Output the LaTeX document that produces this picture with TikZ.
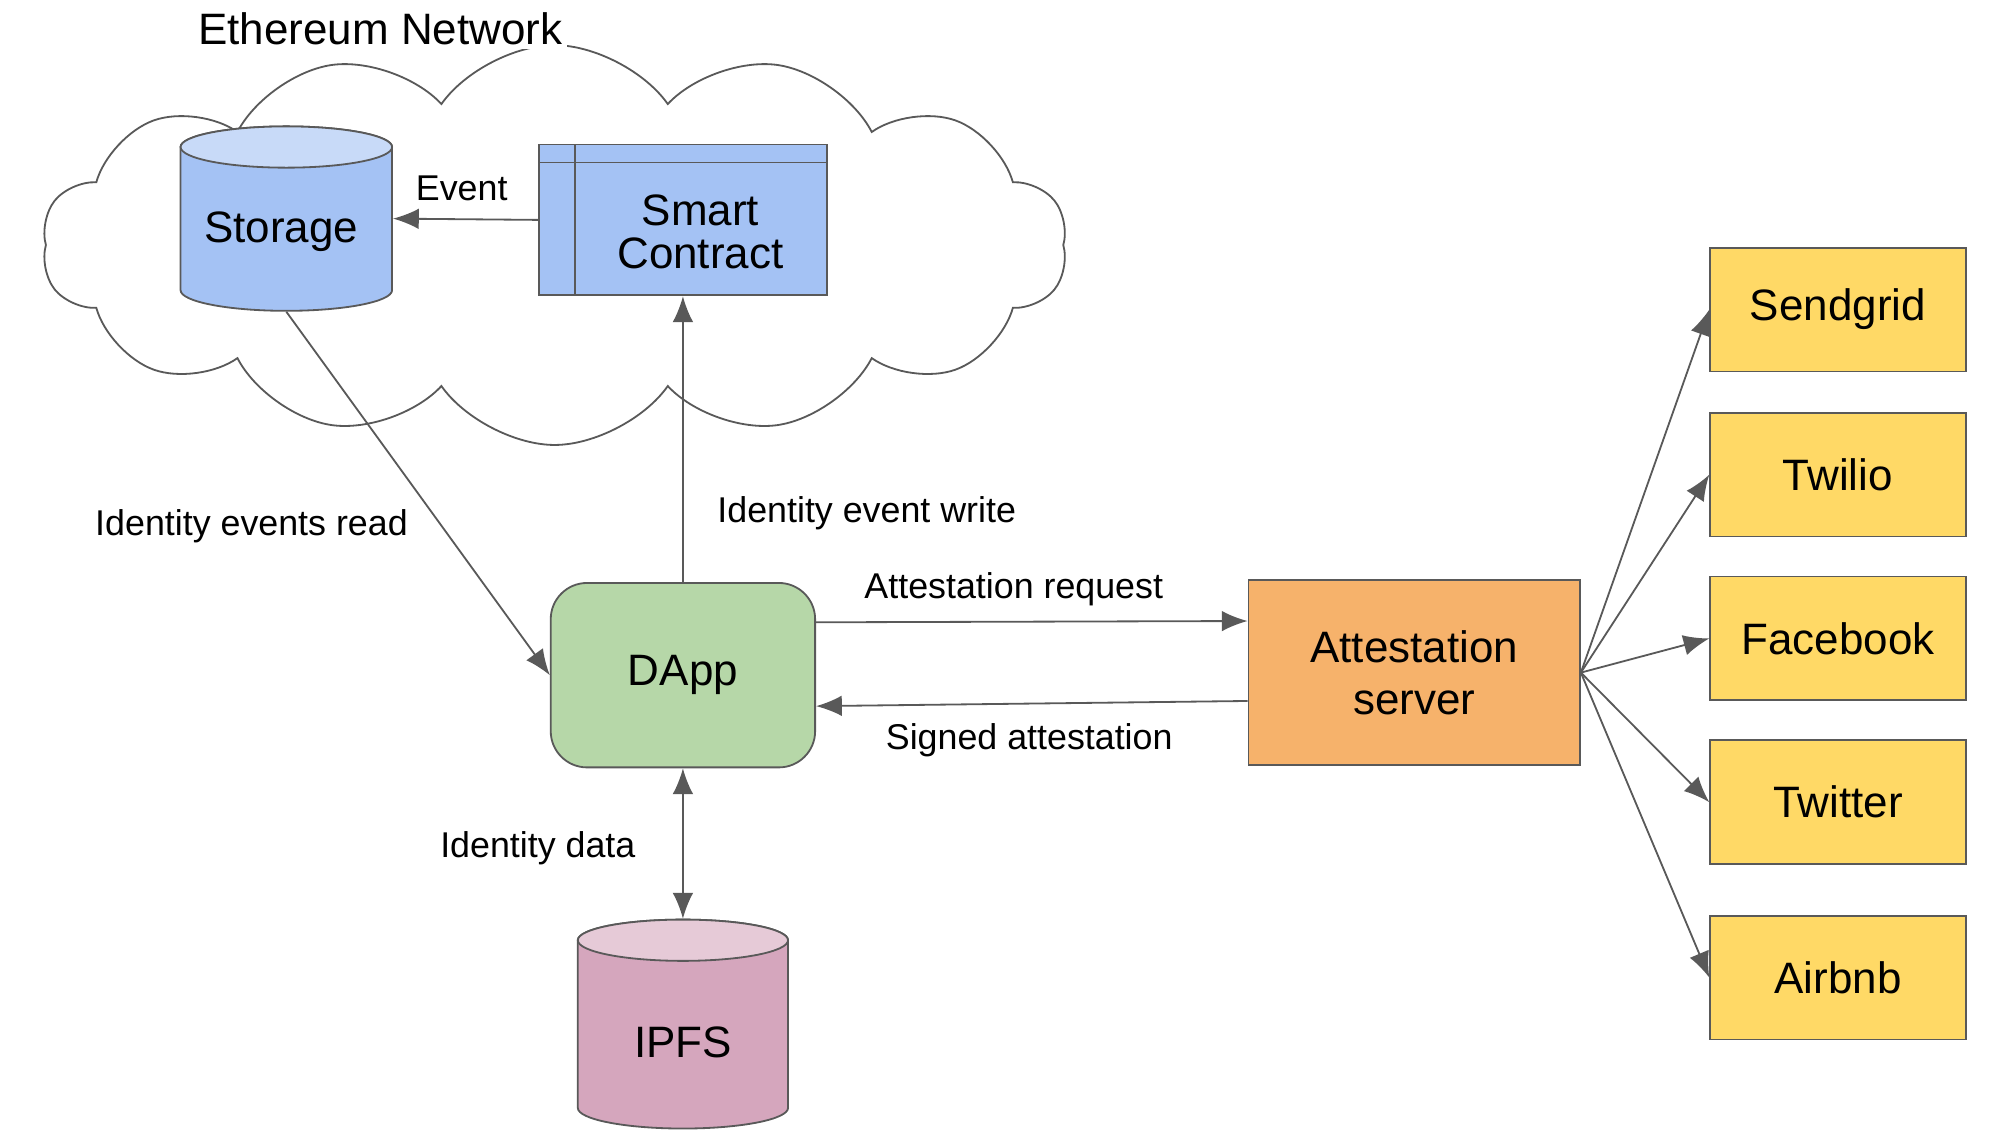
\documentclass[tikz,border=0pt]{standalone}
\usepackage{fontspec}
\setmainfont{Liberation Sans}
\usetikzlibrary{shapes.symbols,arrows.meta}
\definecolor{blueF}{HTML}{A4C2F4}
\definecolor{blueT}{HTML}{C9DAF8}
\definecolor{greenF}{HTML}{B6D7A8}
\definecolor{pinkF}{HTML}{D5A6BD}
\definecolor{orangeF}{HTML}{F6B26B}
\definecolor{yellowF}{HTML}{FFD966}
\definecolor{edge}{HTML}{595959}
\newcommand{\mycyl}[6]{% cx, cy, w, h, ry, fill
  \draw[edge,fill=#6] (#1-#3,#2+#4-#5) -- (#1-#3,#2-#4+#5) arc (180:360:#3 and #5)
    -- (#1+#3,#2+#4-#5) arc (0:180:#3 and #5) -- cycle;
  \draw[edge,fill=#6!60!white] (#1,#2+#4-#5) ellipse (#3 and #5);}
\begin{document}
\begin{tikzpicture}[
  every node/.style={font=\fontsize{9.7}{11.5}\selectfont},
  box/.style={draw=edge, align=center, inner sep=0pt},
  site/.style={box, fill=yellowF, minimum width=1.98cm, minimum height=0.96cm},
  lbl/.style={font=\fontsize{7.9}{10}\selectfont},
  arr/.style={edge, -{Latex[length=2mm,width=1.6mm]}}]
\useasboundingbox (0,0) rectangle (15.6,-8.84);
% cloud
\node[cloud, draw=edge, cloud puffs=14, cloud puff arc=110, aspect=2.6, minimum width=7.95cm,
  minimum height=3.1cm] (net) at (4.3,-1.9) {};
\node[fill=white, inner sep=1pt] (title) at (2.95,-0.22) {Ethereum Network};
% storage and contract
\mycyl{2.22}{-1.695}{0.82}{0.715}{0.16}{blueF}
\node (storage) at (2.22,-1.695) [minimum width=1.64cm, minimum height=1.43cm] {};
\node at (2.18,-1.8) {Storage};
\node[box, fill=blueF, minimum width=2.23cm, minimum height=1.17cm] (contract) at (5.295,-1.705) {};
\draw[edge] (4.18,-1.26) -- (6.41,-1.26) (4.46,-1.12) -- (4.46,-2.29);
\node[align=center] at (5.43,-1.8) {Smart\\[-2pt]Contract};
\node[lbl] (ev) at (3.58,-1.46) {Event};
\draw[arr] (contract.west) -- (storage.east);
% dapp, ipfs
\node[box, fill=greenF, rounded corners=8pt, minimum width=2.05cm, minimum height=1.43cm] (dapp) at (5.295,-5.235) {DApp};
\mycyl{5.295}{-7.94}{0.815}{0.81}{0.16}{pinkF}
\node (ipfs) at (5.295,-7.94) [minimum width=1.63cm, minimum height=1.62cm] {};
\node at (5.295,-8.08) {IPFS};
\draw[arr] (dapp.north) -- (contract.south);
\node[lbl] (w) at (6.72,-3.98) {Identity event write};
\draw[arr] (storage.south) -- (dapp.west);
\node[lbl] (r) at (1.95,-4.08) {Identity events read};
\draw[edge, {Latex[length=2mm,width=1.6mm]}-{Latex[length=2mm,width=1.6mm]}] (dapp.south) -- (ipfs.north);
\node[lbl] (d) at (4.17,-6.58) {Identity data};
% attestation
\node[box, fill=orangeF, minimum width=2.57cm, minimum height=1.43cm] (att) at (10.965,-5.215) {Attestation\\server};
\draw[arr] ([yshift=0.41cm]dapp.east) -- ([yshift=0.4cm]att.west);
\node[lbl] (req) at (7.86,-4.57) {Attestation request};
\draw[arr] ([yshift=-0.22cm]att.west) -- ([yshift=-0.24cm]dapp.east);
\node[lbl] (sig) at (7.98,-5.74) {Signed attestation};
% services
\node[site] (sendgrid) at (14.25,-2.4) {Sendgrid};
\node[site] (twilio) at (14.25,-3.68) {Twilio};
\node[site] (facebook) at (14.25,-4.95) {Facebook};
\node[site] (twitter) at (14.25,-6.22) {Twitter};
\node[site] (airbnb) at (14.25,-7.58) {Airbnb};
\foreach \s in {sendgrid,twilio,facebook,twitter,airbnb}
  \draw[arr] (att.east) -- (\s.west);
\end{tikzpicture}
\end{document}
